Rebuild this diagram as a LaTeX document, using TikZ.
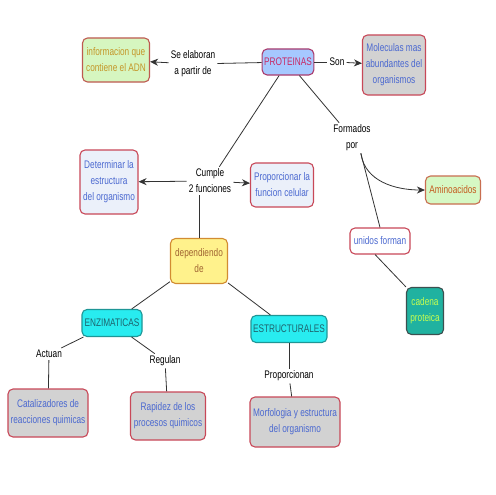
\documentclass[tikz,border=0pt]{standalone}
\usepackage{fontspec}
\setmainfont[FakeStretch=0.75]{Liberation Sans}
\usetikzlibrary{arrows.meta}
\definecolor{bordred}{HTML}{C84858}
\definecolor{txtblue}{HTML}{4A68D0}
\definecolor{greyfill}{HTML}{D2D2D2}
\definecolor{palefill}{HTML}{EBF0FA}
\definecolor{linec}{HTML}{333333}
\begin{document}
\begin{tikzpicture}[x=1pt,y=-1pt,
  every node/.style={font=\fontsize{11}{16}\selectfont, align=center},
  box/.style={draw=bordred, line width=1.1pt, rounded corners=5pt, inner sep=2pt},
  lbl/.style={inner sep=2pt, text=black},
  conn/.style={draw=linec, line width=0.8pt},
  arr/.style={conn, -{Stealth[length=8pt,width=7pt]}}]
\useasboundingbox[fill=white] (0,0) rectangle (495,495);
% nodes
\node[box, fill={rgb,255:red,214;green,246;blue,192}, draw={rgb,255:red,190;green,90;blue,80}, text={rgb,255:red,196;green,150;blue,40}, minimum width=67pt, minimum height=44pt] (adn) at (116,60) {informacion que\\contiene el ADN};
\node[lbl] (seel) at (193,64) {Se elaboran\\a partir de};
\node[box, fill={rgb,255:red,166;green,200;blue,255}, draw={rgb,255:red,170;green,60;blue,110}, text={rgb,255:red,200;green,40;blue,100}, minimum width=51pt, minimum height=26pt] (prot) at (288,62) {PROTEINAS};
\node[lbl] (son) at (337,62) {Son};
\node[box, fill=greyfill, text=txtblue, minimum width=63pt, minimum height=60pt] (mol) at (394,65) {Moleculas mas\\abundantes del\\organismos};
\node[lbl] (cumple) at (210,181) {Cumple\\2 funciones};
\node[box, fill=palefill, text=txtblue, minimum width=58pt, minimum height=64pt] (det) at (109,182) {Determinar la\\estructura\\del organismo};
\node[box, fill=palefill, text=txtblue, minimum width=63pt, minimum height=44pt] (prop) at (282,185) {Proporcionar la\\funcion celular};
\node[lbl] (form) at (352,138) {Formados\\por};
\node[box, fill={rgb,255:red,214;green,248;blue,196}, draw={rgb,255:red,200;green,110;blue,80}, text={rgb,255:red,196;green,90;blue,30}, minimum width=55pt, minimum height=28pt] (amino) at (453,190) {Aminoacidos};
\node[box, fill=white, text=txtblue, minimum width=60pt, minimum height=26pt] (unidos) at (380,241) {unidos forman};
\node[box, fill={rgb,255:red,32;green,178;blue,160}, draw={rgb,255:red,60;green,80;blue,80}, text={rgb,255:red,200;green,255;blue,80}, minimum width=37pt, minimum height=47pt] (cadena) at (425,311) {cadena\\proteica};
\node[box, fill={rgb,255:red,255;green,242;blue,140}, draw={rgb,255:red,210;green,140;blue,50}, text={rgb,255:red,160;green,100;blue,50}, minimum width=57pt, minimum height=45pt] (dep) at (199,261) {dependiendo\\de};
\node[box, fill={rgb,255:red,40;green,236;blue,240}, draw={rgb,255:red,30;green,150;blue,150}, text={rgb,255:red,30;green,100;blue,110}, minimum width=60pt, minimum height=27pt] (enz) at (112,323) {ENZIMATICAS};
\node[box, fill={rgb,255:red,40;green,236;blue,240}, draw={rgb,255:red,30;green,150;blue,150}, text={rgb,255:red,30;green,100;blue,110}, minimum width=71pt, minimum height=27pt] (estr) at (289,329) {ESTRUCTURALES};
\node[lbl] (act) at (49,354) {Actuan};
\node[lbl] (reg) at (165,361) {Regulan};
\node[lbl] (propc) at (289,376) {Proporcionan};
\node[box, fill=greyfill, text=txtblue, minimum width=80pt, minimum height=48pt] (cat) at (48,413) {Catalizadores de\\reacciones quimicas};
\node[box, fill=greyfill, text=txtblue, minimum width=75pt, minimum height=48pt] (rap) at (168,416) {Rapidez de los\\procesos quimicos};
\node[box, fill=greyfill, text=txtblue, minimum width=90pt, minimum height=50pt] (morf) at (295,422) {Morfologia y estructura\\del organismo};
% connectors
\draw[conn] (prot) -- (seel);
\draw[arr] (seel) -- (adn);
\draw[conn] (prot) -- (son);
\draw[arr] (son) -- (mol);
\draw[conn] (prot) -- (cumple);
\draw[arr] (cumple) -- (det);
\draw[arr] (cumple) -- (prop);
\draw[conn] (prot) -- (form);
\draw[arr] (form.-60) to[out=-82,in=180] (amino.west);
\draw[conn] (form.-60) -- (unidos.north);
\draw[conn] (unidos.-110) -- (cadena.north west);
\draw[conn] (cumple.south -| dep.north) -- (dep.north);
\draw[conn] (dep) -- (enz);
\draw[conn] (dep) -- (estr);
\draw[conn] (enz) -- (act);
\draw[conn] (act) -- (cat);
\draw[conn] (enz) -- (reg);
\draw[conn] (reg) -- (rap);
\draw[conn] (estr) -- (propc);
\draw[conn] (propc) -- (morf);
\end{tikzpicture}
\end{document}
